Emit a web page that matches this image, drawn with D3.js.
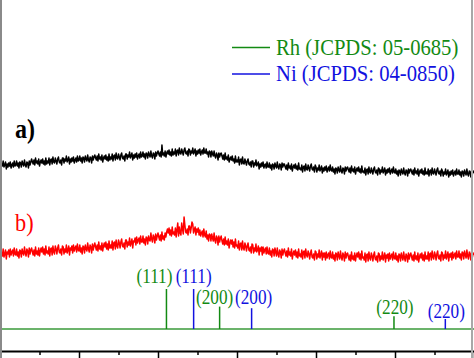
<!DOCTYPE html>
<html>
<head>
<meta charset="utf-8">
<script src="https://cdn.jsdelivr.net/npm/d3@7"></script>
<style>
  html, body { margin: 0; padding: 0; background: #fff; }
  svg { display: block; }
</style>
</head>
<body>
<svg id="chart" width="474" height="358"></svg>
<script>
// ---------- DATA ----------
// 2-theta grid: 20 to 80 deg, step 0.1 deg
const twoThetaStart = 20, twoThetaStep = 0.1;

// Trace a) (black), intensity in a.u.
const traceA = [
188,183,187,185,190,184,186,189,182,187,184,188,185,189,183,186,188,184,190,185,
186,190,185,188,183,189,188,184,190,187,185,191,186,184,189,188,183,190,186,189,
192,189,187,191,186,193,188,190,187,192,185,189,191,188,192,187,190,186,193,187,
190,188,193,186,191,192,187,194,189,188,193,190,187,192,194,189,188,191,186,193,
193,188,192,190,195,189,191,194,187,192,189,193,190,194,188,191,193,189,195,190,
191,195,190,193,188,194,193,189,195,192,190,196,191,189,194,193,188,195,191,194,
196,193,191,195,190,197,192,194,191,196,189,193,195,192,196,191,194,190,197,191,
194,192,197,190,195,196,191,198,193,192,197,194,191,196,198,193,192,195,190,197,
197,192,196,194,199,193,195,198,191,196,193,197,194,198,192,195,197,193,199,194,
195,199,194,197,192,198,197,193,199,196,194,200,195,193,198,197,192,199,195,198,
200,197,195,199,194,206,196,198,195,200,194,198,200,197,201,196,199,195,202,196,
199,197,202,195,200,201,196,203,198,197,202,199,196,201,203,198,197,200,195,202,
201,196,200,198,203,197,199,202,195,200,197,201,198,202,196,199,201,197,203,198,
198,202,197,199,194,200,199,194,200,197,195,200,195,193,198,196,191,198,194,197,
198,195,192,196,191,198,192,194,191,196,189,192,194,191,195,190,192,188,195,189,
191,189,194,186,191,192,187,194,188,187,192,189,186,190,192,187,186,189,184,190,
190,184,188,186,191,185,187,189,182,187,184,188,185,189,183,186,187,183,189,184,
184,188,183,186,181,187,186,182,188,185,183,189,184,182,187,186,181,188,184,187,
187,184,182,186,181,188,183,185,182,187,180,184,186,183,187,182,185,181,188,182,
183,181,186,179,184,185,180,187,182,181,186,183,180,185,187,182,181,184,179,186,
184,179,183,181,186,180,182,185,178,183,180,184,181,185,179,182,184,180,186,181,
180,184,179,182,177,183,182,178,184,181,179,185,180,178,183,182,177,184,180,183,
184,181,179,183,178,185,180,182,179,184,177,181,183,180,184,179,182,178,185,179,
180,178,183,176,181,182,177,184,179,178,183,180,177,182,184,179,178,181,176,183,
182,177,181,179,184,178,180,183,176,181,178,182,179,183,177,180,182,178,184,179,
178,182,177,180,175,181,180,176,182,179,177,183,178,176,181,180,175,182,178,181,
182,179,177,181,176,183,178,180,177,182,175,179,181,178,182,177,180,176,183,177,
179,177,182,175,180,181,176,183,178,177,182,179,176,181,183,178,177,180,175,182,
180,175,179,177,182,176,178,181,174,179,176,180,177,181,175,178,180,176,182,177,
177,181,176,179,174,180,179,175,181,178,176,182,177,175,180,179,174,181,177,180,
178
];

// Trace b) (red), intensity in a.u.
const traceB = [
100,93,98,95,102,94,97,101,92,99,97,101,94,102,96,99,101,95,103,97,
96,102,95,99,93,101,100,94,102,98,96,104,98,95,102,100,94,103,97,101,
103,99,96,101,95,104,97,100,96,103,95,100,103,99,104,97,102,96,105,98,
100,97,104,95,102,103,96,105,99,97,105,102,97,103,106,99,98,102,96,105,
104,97,102,99,106,98,101,105,96,103,101,105,98,106,100,103,105,99,107,101,
100,106,99,103,97,105,104,98,106,102,100,108,102,99,106,104,98,107,101,105,
108,104,101,106,100,109,102,105,101,108,100,105,108,104,109,102,107,101,110,103,
106,103,110,101,108,109,102,111,105,103,111,108,103,109,112,105,104,108,102,111,
111,104,109,106,113,105,108,112,103,110,109,113,106,114,108,111,113,107,115,109,
109,115,108,112,106,114,113,107,115,111,110,118,112,109,116,114,108,117,111,115,
118,114,111,116,110,119,112,115,111,118,114,119,122,118,123,116,121,115,124,117,
119,116,123,114,121,128,115,124,118,116,128,122,117,134,126,119,118,122,116,125,
125,118,123,129,127,118,121,124,116,122,119,123,116,121,115,118,120,114,122,116,
114,120,112,116,110,117,116,110,117,113,110,118,111,108,115,113,106,115,109,113,
115,110,107,112,106,114,107,110,106,112,103,108,111,107,111,104,109,103,112,105,
106,103,110,101,107,108,101,110,103,101,108,105,100,105,108,101,100,104,98,107,
106,98,103,100,107,99,101,105,96,103,100,104,96,104,98,101,103,97,104,98,
97,103,96,100,94,102,101,95,103,99,95,103,97,94,101,99,93,102,96,100,
102,98,95,100,94,103,96,99,95,102,92,97,100,96,101,94,99,93,102,95,
97,94,101,92,99,100,93,102,96,94,100,97,92,98,101,94,93,97,91,100,
99,92,97,94,101,93,96,100,91,98,94,98,91,99,93,96,98,92,100,94,
93,99,92,96,90,98,97,91,99,95,92,100,94,91,98,96,90,99,93,97,
98,94,91,96,90,99,92,95,91,98,90,95,98,94,99,92,97,91,100,93,
94,91,98,89,96,97,90,99,93,91,98,95,90,96,99,92,91,95,89,98,
97,90,95,92,99,91,94,98,89,96,93,97,90,98,92,95,97,91,99,93,
92,98,91,95,89,97,96,90,98,94,91,99,93,90,97,95,89,98,92,96,
98,94,91,96,90,99,92,95,91,98,89,94,97,93,98,91,96,90,99,92,
95,92,99,90,97,98,91,100,94,92,99,96,91,97,100,93,92,96,90,99,
98,91,96,93,100,92,95,99,90,97,94,98,91,99,93,96,98,92,100,94,
94,100,93,97,91,99,98,92,100,96,93,101,95,92,99,97,91,100,94,98,
96
];

// Reference patterns (2-theta, relative intensity)
const rhHkl = ["(111)", "(200)", "(220)"];
const rhPos = [41.07, 47.80, 69.87];
const rhInt = [100, 56, 32];

const niHkl = ["(111)", "(200)", "(220)"];
const niPos = [44.51, 51.85, 76.37];
const niInt = [100, 52, 25];

const legendLabels = ["Rh (JCPDS: 05-0685)", "Ni (JCPDS: 04-0850)"];
const majorTicks = [20, 30, 40, 50, 60, 70, 80];
const minorTicks = [25, 35, 45, 55, 65, 75];

// ---------- LAYOUT / STYLE ----------
const W = 474, H = 358;
const axisY = 351;
const GREEN = "#138a13", BLUE = "#1212e0", RED = "#ff0000";
const SX = 0.86; // horizontal text compression of the reference
const serif = "'Liberation Serif','Times New Roman',serif";

// per-label nudges (dx, dy relative to stick top)
const rhLabelNudge = [[-12, -6], [-5, -3], [1, -2]];
const niLabelNudge = [[0, -6], [2, -4], [1, -1]];

const svg = d3.select("#chart");

const x = d3.scaleLinear().domain([20, 80]).range([0, W]);
const y = d3.scaleLinear().domain([0, 351]).range([351, 0]);
const yStick = d3.scaleLinear().domain([0, 100]).range([329, 289]);

const toPts = arr => arr.map((v, i) => [twoThetaStart + i * twoThetaStep, v]);
const line = d3.line().x(d => x(d[0])).y(d => y(d[1]));

// traces
svg.append("path").datum(toPts(traceA))
  .attr("d", line).attr("fill", "none")
  .attr("stroke", "#000").attr("stroke-width", 1.5).attr("stroke-linejoin", "round");
svg.append("path").datum(toPts(traceB))
  .attr("d", line).attr("fill", "none")
  .attr("stroke", RED).attr("stroke-width", 1.5).attr("stroke-linejoin", "round");

// stick baseline
svg.append("line")
  .attr("x1", x(20)).attr("x2", x(80))
  .attr("y1", yStick(0)).attr("y2", yStick(0))
  .attr("stroke", "#3a9a3a").attr("stroke-width", 1.5);

function sticks(pos, inten, hkl, color, nudge) {
  const g = svg.append("g");
  pos.forEach((p, i) => {
    g.append("line")
      .attr("x1", x(p)).attr("x2", x(p))
      .attr("y1", yStick(0)).attr("y2", yStick(inten[i]))
      .attr("stroke", color).attr("stroke-width", 1.5);
    g.append("text")
      .attr("transform", `translate(${x(p) + nudge[i][0]},${yStick(inten[i]) + nudge[i][1]}) scale(${SX},1)`)
      .attr("text-anchor", "middle")
      .attr("font-family", serif).attr("font-size", 20)
      .attr("fill", color).text(hkl[i]);
  });
}
sticks(rhPos, rhInt, rhHkl, GREEN, rhLabelNudge);
sticks(niPos, niInt, niHkl, BLUE, niLabelNudge);

// legend
const legendColors = [GREEN, BLUE];
legendLabels.forEach((lab, i) => {
  const ly = 47.5 + i * 26.5;
  svg.append("line").attr("x1", 232).attr("x2", 270)
    .attr("y1", ly).attr("y2", ly)
    .attr("stroke", legendColors[i]).attr("stroke-width", 1.5);
  svg.append("text")
    .attr("transform", `translate(276,${ly + 7}) scale(${SX},1)`)
    .attr("font-family", serif).attr("font-size", 24)
    .attr("fill", legendColors[i]).text(lab);
});

// panel labels
svg.append("text")
  .attr("transform", `translate(15,138) scale(${SX},1)`)
  .attr("font-family", serif).attr("font-size", 28).attr("font-weight", "bold")
  .attr("fill", "#000").text("a)");
svg.append("text")
  .attr("transform", `translate(15,231) scale(${SX},1)`)
  .attr("font-family", serif).attr("font-size", 26)
  .attr("fill", RED).text("b)");

// bottom axis
const axMajor = d3.axisBottom(x).tickValues(majorTicks).tickSize(8).tickSizeOuter(0).tickFormat("");
const axMinor = d3.axisBottom(x).tickValues(minorTicks).tickSize(4).tickSizeOuter(0).tickFormat("");
const gMaj = svg.append("g").attr("transform", `translate(0,${axisY})`).call(axMajor);
const gMin = svg.append("g").attr("transform", `translate(0,${axisY})`).call(axMinor);
gMin.select(".domain").remove();
gMaj.select(".domain").attr("stroke", "#000").attr("stroke-width", 2);
svg.selectAll(".tick line").attr("stroke", "#000").attr("stroke-width", 1.5);

// frame sides (gray, as in the cropped reference)
svg.append("line").attr("x1", 1).attr("x2", 1).attr("y1", 0).attr("y2", H)
  .attr("stroke", "#8a8a8a").attr("stroke-width", 2);
svg.append("line").attr("x1", 472).attr("x2", 472).attr("y1", 0).attr("y2", H)
  .attr("stroke", "#a8a8a8").attr("stroke-width", 2);
</script>
</body>
</html>
